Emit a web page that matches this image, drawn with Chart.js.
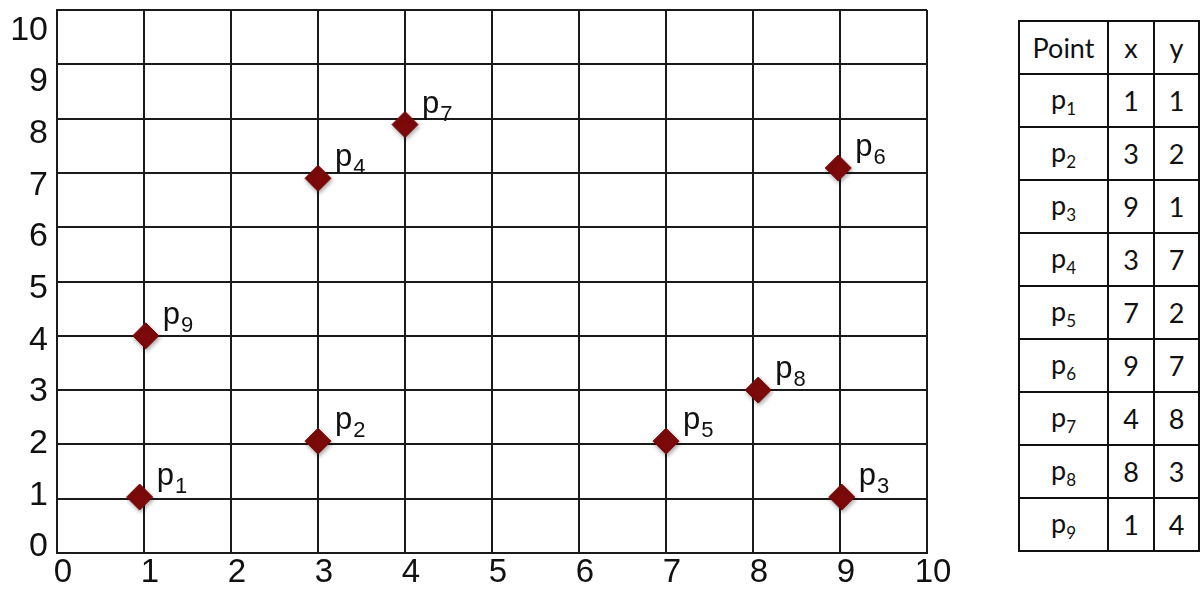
<!DOCTYPE html>
<html>
<head>
<meta charset="utf-8">
<script src="https://cdn.jsdelivr.net/npm/chart.js@4"></script>
<style>
  body { margin: 0; background: #fff; width: 1200px; height: 594px; overflow: hidden; position: relative; }
  #wrap { position: absolute; left: 0; top: 0; width: 970px; height: 594px; }
  #tbl { position: absolute; left: 1018px; top: 20px; border-collapse: collapse; font-family: Lato, "DejaVu Sans", sans-serif; font-size: 27px; color: #111; }
  #tbl td { border: 2px solid #111; height: 51px; padding: 0; text-align: center; }
  #tbl sub { font-size: 17px; vertical-align: -6px; }
</style>
</head>
<body>
<div id="wrap"><canvas id="mycanvas"></canvas></div>
<table id="tbl"></table>
<script>
// points as plotted and as listed in the table
var names = ["1", "2", "3", "4", "5", "6", "7", "8", "9"];
var xs = [0.95, 3.0, 9.02, 3.0, 7.0, 8.98, 4.0, 8.06, 1.02];
var ys = [1.03, 2.06, 1.03, 6.9, 2.06, 7.09, 7.89, 3.0, 4.0];
var tableX = [1, 3, 9, 3, 7, 9, 4, 8, 1];
var tableY = [1, 2, 1, 7, 2, 7, 8, 3, 4];
var axisTicks = [0, 1, 2, 3, 4, 5, 6, 7, 8, 9, 10];

// table on the right
var tbl = document.getElementById("tbl");
var html = '<tr><td style="width:87px">Point</td><td style="width:44px">x</td><td style="width:43px">y</td></tr>';
for (var i in names) {
	html += '<tr><td>p<sub>' + names[i] + '</sub></td><td>' + tableX[i] + '</td><td>' + tableY[i] + '</td></tr>';
}
tbl.innerHTML = html;

var pts = [];
for (var i in xs) {
	pts.push({x: xs[i], y: ys[i]});
}

var labelPlugin = {
	id: "plabels",
	beforeDatasetDraw: function(chart) {
		var c = chart.ctx;
		c.save();
		c.shadowColor = "rgba(0,0,0,0.35)";
		c.shadowBlur = 4;
		c.shadowOffsetX = 1;
		c.shadowOffsetY = 2;
	},
	afterDatasetDraw: function(chart) {
		chart.ctx.restore();
	},
	afterDatasetsDraw: function(chart) {
		var c = chart.ctx;
		var meta = chart.getDatasetMeta(0);
		c.save();
		c.fillStyle = "#111";
		c.textBaseline = "alphabetic";
		c.textAlign = "left";
		meta.data.forEach(function(el, i) {
			c.font = "31px 'Liberation Sans'";
			c.fillText("p", el.x + 17, el.y - 12);
			var w = c.measureText("p").width;
			c.font = "22px 'Liberation Sans'";
			c.fillText(names[i], el.x + 17 + w + 1, el.y - 4);
		});
		c.restore();
	}
};

function noPad(s) {
	s.paddingTop = 0; s.paddingBottom = 0; s.paddingLeft = 0; s.paddingRight = 0;
}

var ctx = document.getElementById("mycanvas");
var chart = new Chart(ctx, {
	type: "scatter",
	data: {
		datasets: [{
			data: pts,
			pointStyle: "rectRot",
			pointRadius: 13,
			pointHoverRadius: 13,
			backgroundColor: "#7c0a0a",
			borderColor: "#7c0a0a",
			borderWidth: 1
		}]
	},
	options: {
		responsive: true,
		maintainAspectRatio: false,
		animation: false,
		events: [],
		layout: { autoPadding: false, padding: { left: 0, right: 43, top: 10, bottom: 0 } },
		plugins: { legend: { display: false }, tooltip: { enabled: false } },
		scales: {
			x: {
				type: "linear", min: 0, max: 10,
				afterBuildTicks: function(s) { s.ticks = axisTicks.map(function(v) { return {value: v}; }); },
				afterFit: function(s) { s.height = 41; noPad(s); },
				grid: { color: "#1a1a1a", lineWidth: 2, drawTicks: false },
				border: { color: "#1a1a1a", width: 2 },
				ticks: { color: "#111", padding: 0, labelOffset: 6, maxRotation: 0, autoSkip: false,
					font: { family: "Liberation Sans", size: 33 } }
			},
			y: {
				type: "linear", min: 0, max: 10, position: "left",
				afterBuildTicks: function(s) { s.ticks = axisTicks.map(function(v) { return {value: v}; }); },
				afterFit: function(s) { s.width = 0; noPad(s); },
				grid: { color: "#1a1a1a", lineWidth: 2, drawTicks: false },
				border: { color: "#1a1a1a", width: 2 },
				ticks: { display: false }
			},
			yl: {
				type: "linear", min: -0.116, max: 10.39, position: "left",
				afterBuildTicks: function(s) { s.ticks = axisTicks.map(function(v) { return {value: v}; }); },
				afterFit: function(s) { s.width = 57; noPad(s); },
				grid: { display: false, drawTicks: false },
				border: { display: false },
				ticks: { color: "#111", padding: 9, autoSkip: false,
					font: { family: "Liberation Sans", size: 34 } }
			}
		}
	},
	plugins: [labelPlugin]
});
</script>
</body>
</html>
